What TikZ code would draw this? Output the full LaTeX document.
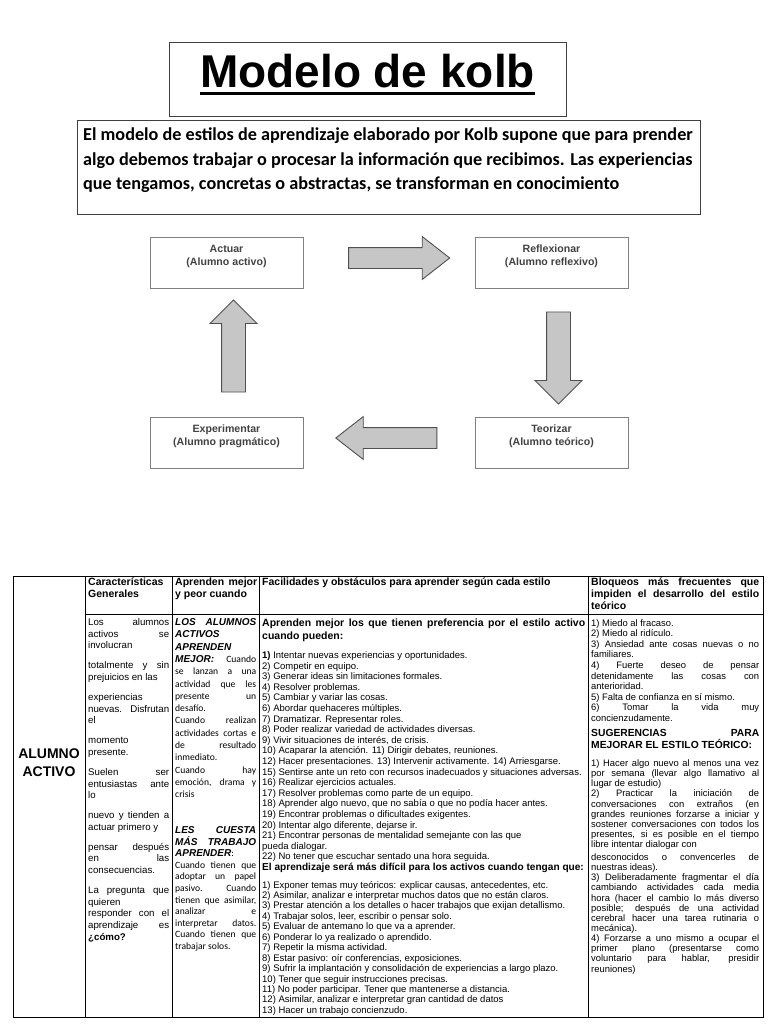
\documentclass[tikz,border=0pt]{standalone}
\usepackage{fontspec}
\setmainfont{Liberation Sans}
\newfontfamily\calib{Carlito}
\usetikzlibrary{positioning,calc,shapes.arrows}
\definecolor{headline}{HTML}{404040}
\definecolor{boxline}{HTML}{808080}
\definecolor{arrowfill}{HTML}{C6C6C6}
\definecolor{arrowline}{HTML}{505050}
\definecolor{flowtext}{HTML}{424242}
\tolerance=10000 \hyphenpenalty=10000 \exhyphenpenalty=10000 \hbadness=10000
\newcommand{\fs}[2]{\fontsize{#1}{#2}\selectfont}
\newcommand{\bi}[1]{{\rmfamily\fs{10}{12.3}\bfseries\itshape #1}}
\newcommand{\flowlabel}[2]{\parbox[c][51pt][t]{153pt}{\centering\vspace{7.6pt}#1\\(#2)}}
\tikzset{
  flowbox/.style={draw=boxline, line width=0.8pt, minimum width=153pt, minimum height=51pt,
    inner sep=0pt, text=flowtext, font=\fs{10.6}{13}\bfseries},
  blockarrow/.style={single arrow, draw=arrowline, fill=arrowfill, line width=0.9pt,
    inner xsep=0pt, single arrow head indent=0pt},
  cell/.style={anchor=base west, inner sep=0pt},
  tableline/.style={line width=0.8pt, black}
}
\begin{document}
\begin{tikzpicture}[x=1pt,y=-1pt]
  \fill[white] (0,0) rectangle (768,1024);
  \useasboundingbox (0,0) rectangle (768,1024);

  % heading
  \node[draw=headline, line width=0.9pt, minimum width=397pt, minimum height=74pt] (titlebox) at (367.5,79) {};
  \node[anchor=base, inner sep=0pt, font=\fs{46}{50}\bfseries] (titletext) at (367.5,87.5) {Modelo de kolb};
  \draw[line width=3pt] ($(titletext.base west)+(0,6)$) -- ($(titletext.base east)+(0,6)$);
  \node[draw=headline, line width=0.9pt, minimum width=623pt, minimum height=94pt] (descbox) at (388.5,167) {};
  \node[cell, font=\calib\bfseries\fs{18.2}{24.5}] (desctext) at (83,141) {\parbox[t]{640pt}{%
    El modelo de estilos de aprendizaje elaborado por Kolb supone que para prender\\
    algo debemos trabajar o procesar la información que recibimos. Las experiencias\\
    que tengamos, concretas o abstractas, se transforman en conocimiento}};

  % cycle
  \node[flowbox] (actuar) at (226.5,263) {\flowlabel{Actuar}{Alumno activo}};
  \node[flowbox] (reflex) at (551.5,263) {\flowlabel{Reflexionar}{Alumno reflexivo}};
  \node[flowbox] (teor) at (551.5,443) {\flowlabel{Teorizar}{Alumno teórico}};
  \node[flowbox] (exper) at (226.5,443) {\flowlabel{Experimentar}{Alumno pragmático}};
  \node[blockarrow, minimum height=101pt, minimum width=42pt, inner ysep=10pt,
    single arrow head extend=11pt, single arrow tip angle=76]
    (toreflex) at ($(actuar.east)!0.5!(reflex.west)+(3.5,-5)$) {};
  \node[blockarrow, rotate=-90, minimum height=92pt, minimum width=46pt, inner ysep=11.5pt,
    single arrow head extend=11.5pt, single arrow tip angle=90]
    (toteor) at ($(reflex.south)!0.5!(teor.north)+(7,-1)$) {};
  \node[blockarrow, rotate=180, minimum height=101pt, minimum width=42pt, inner ysep=10pt,
    single arrow head extend=11pt, single arrow tip angle=76]
    (toexper) at ($(teor.west)!0.5!(exper.east)+(4,-5)$) {};
  \node[blockarrow, rotate=90, minimum height=92pt, minimum width=46pt, inner ysep=11.5pt,
    single arrow head extend=11.5pt, single arrow tip angle=90]
    (toactuar) at ($(exper.north)!0.5!(actuar.south)+(7,-1)$) {};

  % table
  \draw[tableline] (13,576) rectangle (763,1017);
  \draw[tableline] (85,614) -- (763,614);
  \foreach \x in {85,172,259,588}
    \draw[tableline] (\x,576) -- (\x,1017);

  \node[anchor=base, inner sep=0pt] (rowlabel) at (49,758) {\parbox[t]{72pt}{\centering\fs{14}{18}\bfseries ALUMNO\\ACTIVO}};

  \node[cell] (genhead) at (88,585.5) {\parbox[t]{81pt}{\fs{10.5}{12}\bfseries Características\\Generales}};
  \node[cell] (cuandohead) at (175,585.5) {\parbox[t]{82pt}{\fs{10.5}{12}\bfseries Aprenden mejor\linebreak y peor cuando}};
  \node[cell] (facilhead) at (262,585.5) {\parbox[t]{330pt}{\fs{10.5}{12}\bfseries Facilidades y obstáculos para aprender según cada estilo}};
  \node[cell] (bloqhead) at (591,585.5) {\parbox[t]{168pt}{\fs{10.5}{12}\bfseries Bloqueos más frecuentes que\linebreak impiden el desarrollo del estilo\linebreak teórico}};

  \node[cell] (gentext) at (88,625.5) {\parbox[t]{81pt}{\fs{9.7}{11.7}\setlength{\parskip}{8.2pt}%
    Los alumnos\linebreak activos se\linebreak involucran\par
    totalmente y sin\linebreak prejuicios en las\par
    experiencias\\ nuevas. Disfrutan\linebreak el\par
    momento\\ presente.\par
    Suelen ser\linebreak entusiastas ante\linebreak lo\par
    nuevo y tienden a\linebreak actuar primero y\par
    pensar después\linebreak en las\linebreak consecuencias.\par
    La pregunta que\linebreak quieren\\ responder con el\linebreak aprendizaje es\linebreak \textbf{¿cómo?}}};

  \node[cell] (cuandomejor) at (175,625.5) {\parbox[t]{81pt}{\calib\fs{9.6}{12.3}%
    \bi{LOS ALUMNOS}\linebreak \bi{ACTIVOS}\\ \bi{APRENDEN}\\ \bi{MEJOR:} Cuando\linebreak
    se lanzan a una\linebreak actividad que les\linebreak presente un\linebreak desafío.\\
    Cuando realizan\linebreak actividades cortas e\linebreak de resultado\linebreak inmediato.\\
    Cuando hay\linebreak emoción, drama y\linebreak crisis}};
  \node[cell] (cuandopeor) at (175,833.5) {\parbox[t]{81pt}{\calib\fs{9.6}{11.6}%
    \bi{LES CUESTA}\linebreak \bi{MÁS TRABAJO}\linebreak \bi{APRENDER}:\\
    Cuando tienen que\linebreak adoptar un papel\linebreak pasivo. Cuando\linebreak
    tienen que asimilar,\linebreak analizar e\linebreak interpretar datos.\linebreak
    Cuando tienen que\linebreak trabajar solos.}};

  \node[cell] (facilmejor) at (262,626) {\parbox[t]{323pt}{\fs{10.5}{13.5}\bfseries
    Aprenden mejor los que tienen preferencia por el estilo activo\linebreak cuando pueden:}};
  \node[cell] (facillist) at (262,658.5) {\parbox[t]{330pt}{\fs{9.5}{10.6}%
    \textbf{1)} Intentar nuevas experiencias y oportunidades.\\
    2) Competir en equipo.\\
    3) Generar ideas sin limitaciones formales.\\
    4) Resolver problemas.\\
    5) Cambiar y variar las cosas.\\
    6) Abordar quehaceres múltiples.\\
    7) Dramatizar. Representar roles.\\
    8) Poder realizar variedad de actividades diversas.\\
    9) Vivir situaciones de interés, de crisis.\\
    10) Acaparar la atención. 11) Dirigir debates, reuniones.\\
    12) Hacer presentaciones. 13) Intervenir activamente. 14) Arriesgarse.\\
    15) Sentirse ante un reto con recursos inadecuados y situaciones adversas.\\
    16) Realizar ejercicios actuales.\\
    17) Resolver problemas como parte de un equipo.\\
    18) Aprender algo nuevo, que no sabía o que no podía hacer antes.\\
    19) Encontrar problemas o dificultades exigentes.\\
    20) Intentar algo diferente, dejarse ir.\\
    21) Encontrar personas de mentalidad semejante con las que\\
    pueda dialogar.\\
    22) No tener que escuchar sentado una hora seguida.}};
  \node[cell] (facildificil) at (262,870.3) {\parbox[t]{340pt}{\fs{10.1}{12}\bfseries
    El aprendizaje será más difícil para los activos cuando tengan que:}};
  \node[cell] (facillistb) at (262,888) {\parbox[t]{330pt}{\fs{9.5}{10.45}%
    1) Exponer temas muy teóricos: explicar causas, antecedentes, etc.\\
    2) Asimilar, analizar e interpretar muchos datos que no están claros.\\
    3) Prestar atención a los detalles o hacer trabajos que exijan detallismo.\\
    4) Trabajar solos, leer, escribir o pensar solo.\\
    5) Evaluar de antemano lo que va a aprender.\\
    6) Ponderar lo ya realizado o aprendido.\\
    7) Repetir la misma actividad.\\
    8) Estar pasivo: oír conferencias, exposiciones.\\
    9) Sufrir la implantación y consolidación de experiencias a largo plazo.\\
    10) Tener que seguir instrucciones precisas.\\
    11) No poder participar. Tener que mantenerse a distancia.\\
    12) Asimilar, analizar e interpretar gran cantidad de datos\\
    13) Hacer un trabajo concienzudo.}};

  \node[cell] (bloqlist) at (591,626) {\parbox[t]{168pt}{\fs{9.4}{10.6}%
    1) Miedo al fracaso.\\
    2) Miedo al ridículo.\\
    3) Ansiedad ante cosas nuevas o no\linebreak familiares.\\
    4) Fuerte deseo de pensar\linebreak detenidamente las cosas con\linebreak anterioridad.\\
    5) Falta de confianza en sí mismo.\\
    6) Tomar la vida muy\linebreak concienzudamente.}};
  \node[cell] (bloqsug) at (591,736) {\parbox[t]{168pt}{\fs{10.3}{12.5}\bfseries
    SUGERENCIAS PARA\linebreak MEJORAR EL ESTILO TEÓRICO:}};
  \node[cell] (bloqlistb) at (591,766.5) {\parbox[t]{168pt}{\fs{9.4}{10.15}%
    1) Hacer algo nuevo al menos una vez\linebreak por semana (llevar algo llamativo al\linebreak lugar de estudio)\\
    2) Practicar la iniciación de\linebreak conversaciones con extraños (en\linebreak
    grandes reuniones forzarse a iniciar y\linebreak sostener conversaciones con todos los\linebreak
    presentes, si es posible en el tiempo\linebreak libre intentar dialogar con\par\vspace{2.6pt}
    desconocidos o convencerles de\linebreak nuestras ideas).\\
    3) Deliberadamente fragmentar el día\linebreak cambiando actividades cada media\linebreak
    hora (hacer el cambio lo más diverso\linebreak posible; después de una actividad\linebreak
    cerebral hacer una tarea rutinaria o\linebreak mecánica).\\
    4) Forzarse a uno mismo a ocupar el\linebreak primer plano (presentarse como\linebreak
    voluntario para hablar, presidir\linebreak reuniones)}};
\end{tikzpicture}
\end{document}
